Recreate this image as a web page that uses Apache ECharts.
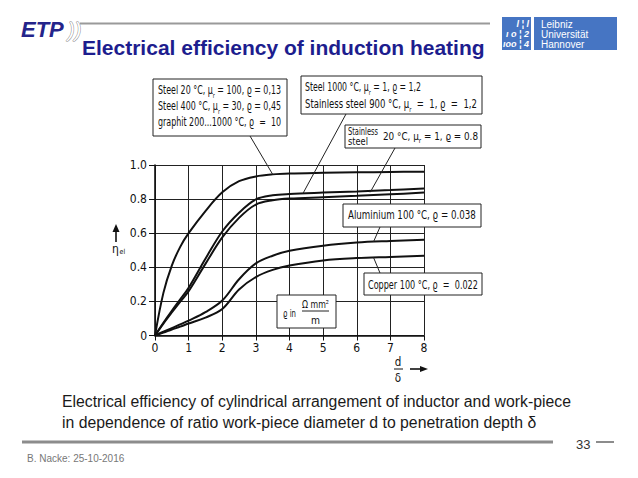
<!DOCTYPE html>
<html><head><meta charset="utf-8">
<script src="https://cdn.jsdelivr.net/npm/echarts@6/dist/echarts.min.js"></script>
<style>html,body{margin:0;padding:0;background:#fff;}#c{width:638px;height:478px;}</style>
</head><body><div id="c"></div>
<script>
// ---- data ----
const ratioDd = [0, 0.25, 0.5, 0.75, 1, 1.5, 2, 2.5, 3, 3.5, 4, 5, 6, 7, 8];
const steel20 = [0, 0.25, 0.41, 0.52, 0.60, 0.73, 0.84, 0.905, 0.933, 0.945, 0.95, 0.954, 0.957, 0.959, 0.961];
const steel1000 = [0, 0.075, 0.145, 0.212, 0.28, 0.45, 0.61, 0.72, 0.798, 0.822, 0.830, 0.838, 0.845, 0.853, 0.862];
const stainless20 = [0, 0.07, 0.135, 0.198, 0.26, 0.42, 0.575, 0.69, 0.768, 0.793, 0.803, 0.811, 0.819, 0.828, 0.838];
const aluminium = [0, 0.022, 0.043, 0.065, 0.087, 0.137, 0.205, 0.33, 0.423, 0.468, 0.497, 0.527, 0.545, 0.554, 0.561];
const copper = [0, 0.017, 0.035, 0.052, 0.07, 0.105, 0.155, 0.27, 0.343, 0.385, 0.410, 0.440, 0.454, 0.461, 0.468];
const xTicks = [0, 1, 2, 3, 4, 5, 6, 7, 8];
const yTicks = ['0', '0.2', '0.4', '0.6', '0.8', '1.0'];
const seriesNames = ['Steel 20 °C', 'Steel 1000 °C', 'Stainless steel 20 °C', 'Aluminium 100 °C', 'Copper 100 °C'];
const seriesValues = [steel20, steel1000, stainless20, aluminium, copper];

const NARROW = "'Liberation Sans Narrow','DejaVu Sans Condensed','Liberation Sans',sans-serif";
const SANS = "'Liberation Sans',Arial,sans-serif";

const chart = echarts.init(document.getElementById('c'), null, {renderer: 'svg', width: 638, height: 478});

const series = seriesValues.map((vals, i) => ({
  name: seriesNames[i], type: 'line', smooth: 0.35, showSymbol: false, silent: true,
  data: ratioDd.map((x, j) => [x, vals[j]]),
  lineStyle: {color: '#111', width: 2}, z: 5
}));

chart.setOption({
  backgroundColor: '#fff',
  animation: false,
  grid: {left: 155, top: 165, width: 269, height: 170.5, containLabel: false},
  xAxis: {
    type: 'value', min: 0, max: 8, interval: 1,
    axisLine: {show: true, lineStyle: {color: '#111', width: 1.6}},
    axisTick: {show: true, length: 5, lineStyle: {color: '#111', width: 1}},
    axisLabel: {margin: 6, fontSize: 12, color: '#111', fontFamily: NARROW,
      formatter: v => String(xTicks[Math.round(v)])},
    splitLine: {show: true, lineStyle: {color: '#222', width: 1}}
  },
  yAxis: {
    type: 'value', min: 0, max: 1, interval: 0.2,
    axisLine: {show: true, lineStyle: {color: '#111', width: 1.6}},
    axisTick: {show: true, length: 6, lineStyle: {color: '#111', width: 1}},
    axisLabel: {margin: 8, fontSize: 12, color: '#111', fontFamily: NARROW,
      formatter: v => yTicks[Math.round(v * 5)]},
    splitLine: {show: true, lineStyle: {color: '#222', width: 1}}
  },
  series: series
});

function px(x, y) { return chart.convertToPixel({gridIndex: 0}, [x, y]); }

const ctx = document.createElement('canvas').getContext('2d');
function measure(text, size) {
  const n = (text.match(/\{s\|r\}/g) || []).length;
  ctx.font = size + 'px ' + NARROW;
  return ctx.measureText(text.replace(/\{s\|r\}/g, '')).width + n * 2.5;
}

const sub = {s: {fontSize: 7, fontFamily: NARROW, fill: '#111', verticalAlign: 'bottom', padding: [0, 0, -3, 0]}};
function box(x, y, w, h) {
  return {type: 'rect', z: 100, shape: {x: x, y: y, width: w, height: h},
    style: {fill: '#fff', stroke: '#222', lineWidth: 1}};
}
// text squeezed horizontally to span x0..x1 like the condensed lettering of the original
function fit(x0, x1, y, text, size) {
  const w = measure(text, size);
  const s = Math.min(1.1, (x1 - x0) / w);
  return {type: 'text', z: 101, x: x0, y: y, scaleX: s, scaleY: 1,
    style: {text: text, x: 0, y: 0, fontSize: size, fontFamily: NARROW, fill: '#111',
      textAlign: 'left', textVerticalAlign: 'middle', rich: sub}};
}
function txt(x, y, text, size, opts) {
  return {type: 'text', z: 101, style: Object.assign({
    text: text, x: x, y: y, fontSize: size, fontFamily: NARROW, fill: '#111',
    textAlign: 'left', textVerticalAlign: 'middle'
  }, opts || {})};
}
function line(p1, p2, w, color, z) {
  return {type: 'line', z: z || 99, shape: {x1: p1[0], y1: p1[1], x2: p2[0], y2: p2[1]},
    style: {stroke: color || '#222', lineWidth: w || 1}};
}

const g = [];
// ---- slide header ----
g.push({type: 'text', z: 51, style: {text: 'ETP', x: 21, y: 29, fontSize: 22, fontWeight: 'bold', fontStyle: 'italic', fontFamily: SANS, fill: '#24248a', textVerticalAlign: 'middle',
  textShadowColor: '#a3a3ab', textShadowOffsetX: 2, textShadowOffsetY: 2, textShadowBlur: 0}});
g.push({type: 'text', z: 51, style: {text: '))', x: 68, y: 30, fontSize: 20, fontStyle: 'italic', fontFamily: SANS, fill: '#fff', stroke: '#8a8a8a', lineWidth: 1, textVerticalAlign: 'middle'}});
g.push(line([80, 23.5], [490, 23.5], 2.2, '#9a9a9a'));
g.push({type: 'text', z: 51, style: {text: 'Electrical efficiency of induction heating', x: 82, y: 47, fontSize: 21, fontWeight: 'bold', fontFamily: SANS, fill: '#1d1d8e', textVerticalAlign: 'middle'}});
// Leibniz logo
g.push({type: 'rect', z: 50, shape: {x: 502, y: 17, width: 29, height: 33}, style: {fill: '#4675c3'}});
g.push({type: 'rect', z: 50, shape: {x: 534, y: 17, width: 83, height: 33}, style: {fill: '#4675c3'}});
['l ¦ l', 'ı o ¦ 2', 'ıoo ¦ 4'].forEach((t, i) => g.push({type: 'text', z: 51, style: {text: t, x: 529, y: 24 + i * 10, fontSize: 9, fontWeight: 'bold', fontStyle: 'italic', fontFamily: SANS, fill: '#fff', textAlign: 'right', textVerticalAlign: 'middle'}}));
['Leibniz', 'Universität', 'Hannover'].forEach((t, i) => g.push({type: 'text', z: 51, style: {text: t, x: 541, y: 24 + i * 10, fontSize: 10, fontFamily: SANS, fill: '#fff', textVerticalAlign: 'middle'}}));

// ---- annotation boxes ----
g.push(box(153, 79, 134, 57));
g.push(fit(158, 281, 90, 'Steel 20 °C, μ{s|r} = 100, ϱ = 0,13', 11.5));
g.push(fit(158, 281, 105.5, 'Steel 400 °C, μ{s|r} = 30, ϱ = 0,45', 11.5));
g.push(fit(158, 281, 121.5, 'graphit 200...1000 °C, ϱ  =  10', 11.5));

g.push(box(301, 76, 181, 38));
g.push(fit(305, 421, 87, 'Steel 1000 °C, μ{s|r} = 1, ϱ = 1,2', 11.5));
g.push(fit(305, 477, 104, 'Stainless steel 900 °C, μ{s|r}  =  1, ϱ  =  1,2', 11.5));

g.push(box(345, 125, 136, 23));
g.push(fit(348, 378, 131.5, 'Stainless', 10));
g.push(fit(348, 368, 141, 'steel', 10));
g.push(fit(383, 478, 136, '20 °C, μ{s|r} = 1, ϱ = 0.8', 11));

g.push(box(343, 204, 138, 23));
g.push(fit(348, 476, 215.5, 'Aluminium 100 °C, ϱ = 0.038', 12));

g.push(box(364, 273, 118, 22));
g.push(fit(368, 478, 284, 'Copper 100 °C, ϱ  =  0.022', 12));

g.push(box(277, 295, 59, 33));
g.push(fit(283, 296, 313, 'ϱ in', 11));
g.push(fit(302, 329, 304, 'Ω mm²', 11));
g.push(line([302, 311], [329, 311], 1, '#222', 101));
g.push(fit(311, 320, 320, 'm', 11));

// leader lines from boxes to the curves (curve ends via data coordinates)
g.push(line([250, 136], px(3.5, steel20[9]), 1));
g.push(line([346, 114], px(4.4, 0.833), 1));
g.push(line([395, 148], px(6.4, 0.84), 1));
g.push(line([380, 227], px(6.5, 0.55), 1));
g.push(line([380, 273], px(6.5, 0.457), 1));

// axis names
g.push(line([116, 242], [116, 230], 1.6, '#111', 101));
g.push({type: 'polygon', z: 101, shape: {points: [[112.5, 232], [119.5, 232], [116, 224]]}, style: {fill: '#111'}});
g.push(txt(112, 249, 'η', 12));
g.push(txt(119.5, 252, 'el', 7));

g.push(txt(398, 361.5, 'd', 11.5, {textAlign: 'center'}));
g.push(line([394, 369], [403, 369], 1, '#111', 101));
g.push(txt(398, 377.5, 'δ', 11.5, {textAlign: 'center'}));
g.push(line([410, 369], [421, 369], 1.6, '#111', 101));
g.push({type: 'polygon', z: 101, shape: {points: [[420, 366], [420, 372], [428, 369]]}, style: {fill: '#111'}});

// ---- caption & footer ----
g.push({type: 'text', z: 50, style: {text: 'Electrical efficiency of cylindrical arrangement of inductor and work-piece', x: 62, y: 401, fontSize: 15.8, fontFamily: SANS, fill: '#1a1a1a', textVerticalAlign: 'middle'}});
g.push({type: 'text', z: 50, style: {text: 'in dependence of ratio work-piece diameter d to penetration depth δ', x: 62, y: 422, fontSize: 15.8, fontFamily: SANS, fill: '#1a1a1a', textVerticalAlign: 'middle'}});
g.push(line([22, 442], [553, 442], 3, '#8c8c8c'));
g.push(line([596, 442], [614, 442], 2, '#8c8c8c'));
g.push({type: 'text', z: 50, style: {text: '33', x: 576, y: 444, fontSize: 13, fontFamily: SANS, fill: '#333', textVerticalAlign: 'middle'}});
g.push({type: 'text', z: 50, style: {text: 'B. Nacke: 25-10-2016', x: 27, y: 458, fontSize: 10, fontFamily: SANS, fill: '#777', textVerticalAlign: 'middle'}});

chart.setOption({graphic: {elements: g}});
</script></body></html>
